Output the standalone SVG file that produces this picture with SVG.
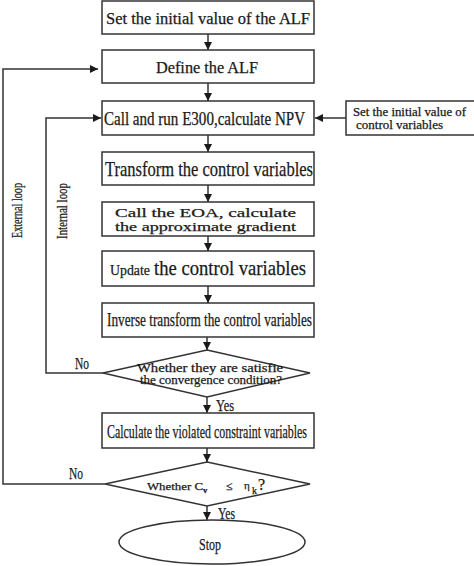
<svg xmlns="http://www.w3.org/2000/svg" width="474" height="566" viewBox="0 0 474 566">
<defs>
<marker id="ah" viewBox="0 0 10 10" refX="10" refY="5" markerWidth="8" markerHeight="8" markerUnits="userSpaceOnUse" orient="auto">
<path d="M0,0 L10,5 L0,10 z" fill="#1a1a1a"/>
</marker>
<style>
.box{fill:#fff;stroke:#333;stroke-width:1.5}
.ln{fill:none;stroke:#333;stroke-width:1.5}
.t{font-family:"Liberation Serif","Times New Roman",serif;fill:#1a1a1a;stroke:#1a1a1a;stroke-width:0.25}
</style>
</defs>
<rect width="474" height="566" fill="#fff"/>
<g id="connectors">
<line class="ln" x1="208" y1="34" x2="208" y2="50" marker-end="url(#ah)"/>
<line class="ln" x1="208" y1="83" x2="208" y2="101" marker-end="url(#ah)"/>
<line class="ln" x1="208" y1="135" x2="208" y2="152" marker-end="url(#ah)"/>
<line class="ln" x1="208" y1="185" x2="208" y2="202" marker-end="url(#ah)"/>
<line class="ln" x1="208" y1="236" x2="208" y2="251" marker-end="url(#ah)"/>
<line class="ln" x1="208" y1="286" x2="208" y2="303" marker-end="url(#ah)"/>
<line class="ln" x1="207" y1="337" x2="207" y2="350" marker-end="url(#ah)"/>
<line class="ln" x1="207" y1="397" x2="207" y2="413" marker-end="url(#ah)"/>
<line class="ln" x1="207" y1="448" x2="207" y2="462" marker-end="url(#ah)"/>
<line class="ln" x1="207" y1="506" x2="207" y2="520" marker-end="url(#ah)"/>
<line class="ln" x1="346" y1="118" x2="315" y2="118" marker-end="url(#ah)"/>
<polyline class="ln" points="104,373 46,373 46,118 101,118" marker-end="url(#ah)"/>
<polyline class="ln" points="105,484 3,484 3,69 98,69" marker-end="url(#ah)"/>
<text class="t" x="75" y="369" font-size="16" textLength="14" lengthAdjust="spacingAndGlyphs">No</text>
<text class="t" x="69" y="479" font-size="16" textLength="14" lengthAdjust="spacingAndGlyphs">No</text>
<text class="t" x="216" y="411" font-size="16" textLength="18" lengthAdjust="spacingAndGlyphs">Yes</text>
<text class="t" x="218" y="519" font-size="16" textLength="17" lengthAdjust="spacingAndGlyphs">Yes</text>
<text class="t" transform="translate(22,238) rotate(-90)" font-size="15" textLength="55" lengthAdjust="spacingAndGlyphs">External loop</text>
<text class="t" transform="translate(67,239) rotate(-90)" font-size="15" textLength="56" lengthAdjust="spacingAndGlyphs">Internal loop</text>
</g>
<g id="n1"><rect class="box" x="102" y="1" width="212" height="33"/>
<text class="t" x="106" y="24" font-size="16" textLength="204" lengthAdjust="spacingAndGlyphs">Set the initial value of the ALF</text></g>
<g id="n2"><rect class="box" x="102" y="50" width="212" height="33"/>
<text class="t" x="156" y="73" font-size="16" textLength="102" lengthAdjust="spacingAndGlyphs">Define the ALF</text></g>
<g id="n3"><rect class="box" x="102" y="101" width="212" height="34"/>
<text class="t" x="104" y="125" font-size="18" textLength="201" lengthAdjust="spacingAndGlyphs">Call and run E300,calculate NPV</text></g>
<g id="n3b"><rect class="box" x="346" y="101" width="130" height="34"/>
<text class="t" x="353" y="116" font-size="12" textLength="113" lengthAdjust="spacingAndGlyphs">Set the initial value of</text>
<text class="t" x="356" y="129" font-size="12" textLength="87" lengthAdjust="spacingAndGlyphs">control variables</text></g>
<g id="n4"><rect class="box" x="102" y="152" width="212" height="33"/>
<text class="t" x="105" y="176" font-size="21" textLength="208" lengthAdjust="spacingAndGlyphs">Transform the control variables</text></g>
<g id="n5"><rect class="box" x="102" y="202" width="212" height="34"/>
<text class="t" x="115" y="217" font-size="13" textLength="181" lengthAdjust="spacingAndGlyphs">Call the EOA, calculate</text>
<text class="t" x="115" y="231" font-size="13" textLength="181" lengthAdjust="spacingAndGlyphs">the approximate gradient</text></g>
<g id="n6"><rect class="box" x="102" y="251" width="212" height="35"/>
<text class="t" x="110" y="275" font-size="15" textLength="40" lengthAdjust="spacingAndGlyphs">Update</text>
<text class="t" x="154" y="275" font-size="21" textLength="152" lengthAdjust="spacingAndGlyphs">the control variables</text></g>
<g id="n7"><rect class="box" x="102" y="303" width="212" height="34"/>
<text class="t" x="107" y="326" font-size="18" textLength="205" lengthAdjust="spacingAndGlyphs">Inverse transform  the control variables</text></g>
<g id="n8"><polygon class="box" points="207,350 310,373 207,397 103,373"/>
<text class="t" x="137" y="372" font-size="11.5" textLength="146" lengthAdjust="spacingAndGlyphs">Whether they are satisfie</text>
<text class="t" x="140" y="384" font-size="11.5" textLength="142" lengthAdjust="spacingAndGlyphs">the convergence condition?</text></g>
<g id="n9"><rect class="box" x="102" y="413" width="212" height="35"/>
<text class="t" x="107" y="438" font-size="18" textLength="200" lengthAdjust="spacingAndGlyphs">Calculate  the violated constraint variables</text></g>
<g id="n10"><polygon class="box" points="207,462 310,484 207,506 105,484"/>
<text class="t" x="147" y="490" font-size="10.5" textLength="56" lengthAdjust="spacingAndGlyphs">Whether C</text>
<text class="t" x="203" y="493" font-size="8.5" font-weight="bold">v</text>
<text class="t" x="226" y="490" font-size="12" fill="#555">≤</text>
<text class="t" x="244" y="489" font-size="11" fill="#444">η</text>
<text class="t" x="252" y="494" font-size="10">k</text>
<text class="t" x="258" y="490" font-size="16">?</text></g>
<g id="n11"><ellipse class="box" cx="212" cy="542" rx="93" ry="22"/>
<text class="t" x="199" y="550" font-size="17" textLength="22" lengthAdjust="spacingAndGlyphs">Stop</text></g>
</svg>
